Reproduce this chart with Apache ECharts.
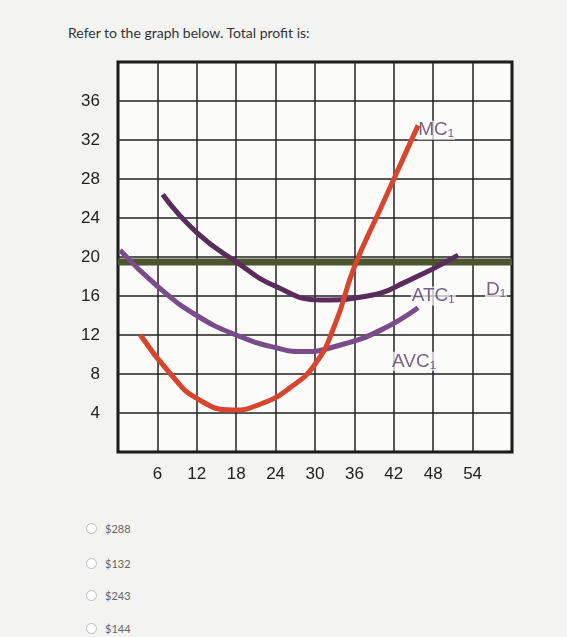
<!DOCTYPE html>
<html>
<head>
<meta charset="utf-8">
<script src="https://cdn.jsdelivr.net/npm/echarts@6/dist/echarts.min.js"></script>
<style>
  body { margin: 0; background: #f3f3f1; font-family: Lato, sans-serif; }
  #wrap { position: relative; width: 567px; height: 637px; overflow: hidden; }
  #chart { position: absolute; left: 0; top: 0; width: 567px; height: 500px; }
  .title { position: absolute; left: 68px; top: 24px; font-size: 14px; color: #333; }
  .opt { position: absolute; left: 86px; font-size: 11px; color: #666; }
  .opt span { display: inline-block; width: 9px; height: 9px; border: 1px solid #bbb; border-radius: 50%; margin-right: 8px; vertical-align: -1px; background: #fff; }
</style>
</head>
<body>
<div id="wrap">
  <div class="title">Refer to the graph below. Total profit is:</div>
  <div id="chart"></div>
  <div class="opt" style="top:522px"><span></span>$288</div>
  <div class="opt" style="top:557px"><span></span>$132</div>
  <div class="opt" style="top:589px"><span></span>$243</div>
  <div class="opt" style="top:622px"><span></span>$144</div>
</div>
<script>
// 曲线数据 [数量, 成本]
const mc = [[3.4, 12], [8, 8], [12, 5.5], [17.5, 4.3], [22, 5], [26, 6.5], [30, 9], [33, 13], [36, 19], [40, 25], [45.7, 33.5]]
const atc = [[6.8, 26.4], [12, 22.5], [18, 19.5], [24, 17], [31, 15.6], [38, 16], [44, 17.5], [51.8, 20.2]]
const avc = [[0.3, 20.7], [6, 17], [12, 14], [18, 12], [24, 10.7], [28, 10.3], [34, 11], [40, 12.5], [45.7, 14.8]]
const demand = [[0, 19.5], [60, 19.5]]

// 曲线标签
const curveLabels = [
  { name: 'MC₁', pos: [45.5, 33.0] },
  { name: 'ATC₁', pos: [44.5, 16.0] },
  { name: 'D₁', pos: [55.8, 16.6] },
  { name: 'AVC₁', pos: [41.5, 9.3] }
]

const xTicks = [6, 12, 18, 24, 30, 36, 42, 48, 54]
const yTicks = [4, 8, 12, 16, 20, 24, 28, 32, 36]

let chart = echarts.init(document.getElementById('chart'))
let option = {
  animation: false,
  grid: { left: 118, top: 62, width: 394, height: 390, show: true, backgroundColor: '#fbfbfa', borderColor: '#111', borderWidth: 3 },
  xAxis: {
    type: 'value', min: 0, max: 60, interval: 6,
    axisLine: { show: false }, axisTick: { show: false },
    splitLine: { lineStyle: { color: '#222', width: 1.5 } },
    axisLabel: { color: '#222', fontSize: 17, margin: 14, formatter: v => xTicks.includes(v) ? String(v) : '' }
  },
  yAxis: {
    type: 'value', min: 0, max: 40, interval: 4,
    axisLine: { show: false }, axisTick: { show: false },
    splitLine: { lineStyle: { color: '#222', width: 1.5 } },
    axisLabel: { color: '#222', fontSize: 17, margin: 18, formatter: v => yTicks.includes(v) ? String(v) : '' }
  },
  series: [
    { type: 'line', data: demand, symbol: 'none', lineStyle: { color: '#4d5530', width: 7 } },
    { type: 'line', data: avc, smooth: true, symbol: 'none', lineStyle: { color: '#7a4c8a', width: 5 } },
    { type: 'line', data: atc, smooth: true, symbol: 'none', lineStyle: { color: '#5a2c5c', width: 5 } },
    { type: 'line', data: mc, smooth: true, symbol: 'none', lineStyle: { color: '#d8452e', width: 5 } },
    {
      type: 'scatter', symbolSize: 1, itemStyle: { color: 'rgba(0,0,0,0)' },
      data: curveLabels.map(d => ({ value: d.pos, name: d.name })),
      label: {
        show: true, position: 'right', distance: 0, formatter: p => p.name,
        color: '#5a3a66', fontSize: 19, fontFamily: 'Liberation Sans',
        backgroundColor: 'rgba(251,251,250,0.9)', padding: [0, 1]
      }
    }
  ]
}
chart.setOption(option)
</script>
</body>
</html>
